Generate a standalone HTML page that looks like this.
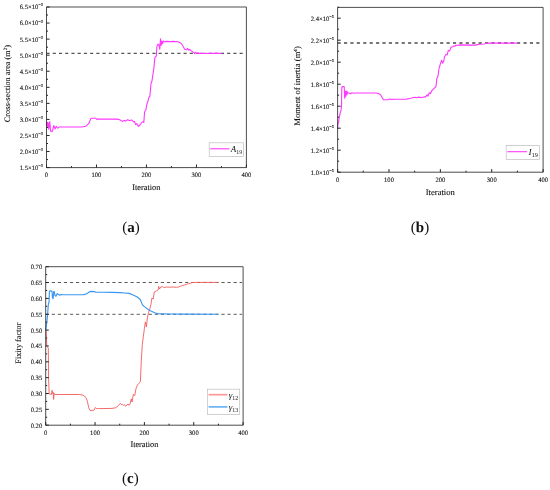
<!DOCTYPE html>
<html><head><meta charset="utf-8"><title>Figure</title>
<style>
html,body{margin:0;padding:0;background:#fff;}
body{width:550px;height:490px;overflow:hidden;}
svg{display:block;text-rendering:geometricPrecision;font-family:"Liberation Serif","DejaVu Serif",serif;fill:#1a1a1a;}
#pa{font-size:10px;}#pb{font-size:10.4px;}#pc{font-size:10px;}
.tk{font-size:6.6px;fill:#111;stroke:#111;stroke-width:.1px;}
.sup{font-size:.67em;}
.sup2{font-size:.6em;}
.sub{font-size:.66em;}
.ax{font-size:.825em;fill:#111;stroke:#111;stroke-width:.1px;}
.lt{font-size:.9em;fill:#111;}
.cap{font-size:15px;fill:#111;}
.mg{fill:none;stroke:#ff38ff;stroke-width:1.1;stroke-linejoin:round;}
.rd{fill:none;stroke:#f35a5a;stroke-width:0.9;stroke-linejoin:round;}
.bl{fill:none;stroke:#3a96ee;stroke-width:1.15;stroke-linejoin:round;}
.dash{stroke:#555;stroke-width:1.15;stroke-dasharray:3.1 3.13;fill:none;}
.dashb{stroke:#484848;stroke-width:1.45;stroke-dasharray:3.1 3.31;fill:none;}
.dash2{stroke:#3c3c3c;stroke-width:0.85;stroke-dasharray:3.2 2.86;fill:none;}
.tick line{stroke:#222;stroke-width:1.0;}
.lg{fill:#fff;stroke:#bdbdbd;stroke-width:0.7;}
</style></head><body>
<svg width="550" height="490" viewBox="0 0 550 490">
<rect width="550" height="490" fill="#fff"/>
<g id="pa">
<line x1="46.5" y1="53.4" x2="243.9" y2="53.4" class="dash"/>
<polyline points="46.6,125.0 47.0,122.0 47.3,126.5 47.8,122.6 48.3,123.0 48.7,129.2 49.2,127.0 49.7,121.5 50.2,126.0 50.6,131.2 52.3,131.4 53.0,129.0 53.7,125.6 54.4,127.0 55.0,128.9 55.7,127.5 56.3,126.2 57.0,127.3 57.8,128.1 58.6,127.3 59.4,127.0 70.0,127.0 81.5,127.0 85.9,126.2 88.7,123.7 90.0,120.5 90.9,118.5 92.0,118.2 95.8,118.2 97.1,119.6 98.3,118.9 99.1,119.1 108.0,119.1 117.0,119.1 119.8,119.8 122.3,121.4 124.2,120.6 125.9,120.9 127.5,119.8 129.4,120.6 131.9,120.0 133.6,122.0 134.5,121.4 135.6,124.7 136.7,123.6 138.5,126.4 140.2,124.7 141.9,122.2 143.0,121.7 143.8,122.5 144.6,112.0 145.9,109.8 146.8,104.3 148.1,101.0 148.8,97.5 149.8,96.6 150.5,90.0 150.9,84.0 151.9,81.3 153.0,74.1 153.8,68.6 154.9,57.6 156.3,55.9 156.9,46.5 158.2,44.1 159.0,44.9 159.8,49.3 160.5,38.8 161.2,45.4 161.8,41.0 162.6,43.8 163.4,41.0 164.8,41.9 166.5,41.4 170.9,41.6 173.1,41.4 178.0,41.7 180.2,42.7 181.9,44.3 183.5,47.1 184.6,49.3 186.3,49.8 187.6,48.5 188.5,50.1 189.6,49.3 191.3,50.9 192.9,52.0 194.0,52.6 194.8,53.7 195.7,52.4 196.8,53.6 197.9,52.9 199.5,53.4 201.0,53.1 203.0,53.5 210.0,53.4 222.0,53.4" class="mg"/>
<path d="M46.5,7.0 H246.4 V167.6" fill="none" stroke="#444" stroke-width="0.95"/><path d="M46.5,7.0 V167.6 H246.4" fill="none" stroke="#2c2c2c" stroke-width="0.85"/>
<g class="tick"><line x1="46.5" y1="7.00" x2="49.6" y2="7.00"/>
<line x1="46.5" y1="15.03" x2="48.0" y2="15.03"/>
<line x1="46.5" y1="23.06" x2="49.6" y2="23.06"/>
<line x1="46.5" y1="31.09" x2="48.0" y2="31.09"/>
<line x1="46.5" y1="39.12" x2="49.6" y2="39.12"/>
<line x1="46.5" y1="47.15" x2="48.0" y2="47.15"/>
<line x1="46.5" y1="55.18" x2="49.6" y2="55.18"/>
<line x1="46.5" y1="63.21" x2="48.0" y2="63.21"/>
<line x1="46.5" y1="71.24" x2="49.6" y2="71.24"/>
<line x1="46.5" y1="79.27" x2="48.0" y2="79.27"/>
<line x1="46.5" y1="87.30" x2="49.6" y2="87.30"/>
<line x1="46.5" y1="95.33" x2="48.0" y2="95.33"/>
<line x1="46.5" y1="103.36" x2="49.6" y2="103.36"/>
<line x1="46.5" y1="111.39" x2="48.0" y2="111.39"/>
<line x1="46.5" y1="119.42" x2="49.6" y2="119.42"/>
<line x1="46.5" y1="127.45" x2="48.0" y2="127.45"/>
<line x1="46.5" y1="135.48" x2="49.6" y2="135.48"/>
<line x1="46.5" y1="143.51" x2="48.0" y2="143.51"/>
<line x1="46.5" y1="151.54" x2="49.6" y2="151.54"/>
<line x1="46.5" y1="159.57" x2="48.0" y2="159.57"/>
<line x1="46.5" y1="167.60" x2="49.6" y2="167.60"/><line x1="46.50" y1="167.6" x2="46.50" y2="164.5"/>
<line x1="71.49" y1="167.6" x2="71.49" y2="166.1"/>
<line x1="96.47" y1="167.6" x2="96.47" y2="164.5"/>
<line x1="121.46" y1="167.6" x2="121.46" y2="166.1"/>
<line x1="146.45" y1="167.6" x2="146.45" y2="164.5"/>
<line x1="171.44" y1="167.6" x2="171.44" y2="166.1"/>
<line x1="196.43" y1="167.6" x2="196.43" y2="164.5"/>
<line x1="221.41" y1="167.6" x2="221.41" y2="166.1"/>
<line x1="246.40" y1="167.6" x2="246.40" y2="164.5"/></g>
<text x="43.0" y="9.40" text-anchor="end" class="tk">6.5×10<tspan class="sup" dy="-2.9">−3</tspan></text>
<text x="43.0" y="25.46" text-anchor="end" class="tk">6.0×10<tspan class="sup" dy="-2.9">−3</tspan></text>
<text x="43.0" y="41.52" text-anchor="end" class="tk">5.5×10<tspan class="sup" dy="-2.9">−3</tspan></text>
<text x="43.0" y="57.58" text-anchor="end" class="tk">5.0×10<tspan class="sup" dy="-2.9">−3</tspan></text>
<text x="43.0" y="73.64" text-anchor="end" class="tk">4.5×10<tspan class="sup" dy="-2.9">−3</tspan></text>
<text x="43.0" y="89.70" text-anchor="end" class="tk">4.0×10<tspan class="sup" dy="-2.9">−3</tspan></text>
<text x="43.0" y="105.76" text-anchor="end" class="tk">3.5×10<tspan class="sup" dy="-2.9">−3</tspan></text>
<text x="43.0" y="121.82" text-anchor="end" class="tk">3.0×10<tspan class="sup" dy="-2.9">−3</tspan></text>
<text x="43.0" y="137.88" text-anchor="end" class="tk">2.5×10<tspan class="sup" dy="-2.9">−3</tspan></text>
<text x="43.0" y="153.94" text-anchor="end" class="tk">2.0×10<tspan class="sup" dy="-2.9">−3</tspan></text>
<text x="43.0" y="170.00" text-anchor="end" class="tk">1.5×10<tspan class="sup" dy="-2.9">−3</tspan></text>
<text x="46.50" y="177.0" text-anchor="middle" class="tk">0</text>
<text x="96.47" y="177.0" text-anchor="middle" class="tk">100</text>
<text x="146.45" y="177.0" text-anchor="middle" class="tk">200</text>
<text x="196.43" y="177.0" text-anchor="middle" class="tk">300</text>
<text x="246.40" y="177.0" text-anchor="middle" class="tk">400</text>
<text x="146.3" y="189.6" text-anchor="middle" class="ax">Iteration</text>
<text transform="translate(9.8,83.6) rotate(-90)" text-anchor="middle" class="ax">Cross-section area (m<tspan class="sup2" dy="-3">2</tspan><tspan dy="3">)</tspan></text>
<rect x="209.2" y="142.8" width="34.2" height="13.8" class="lg"/>
<line x1="210.2" y1="148.8" x2="229.4" y2="148.8" class="mg" stroke-width="1.4"/>
<text x="230.8" y="152.2" class="lt"><tspan font-style="italic">A</tspan><tspan class="sub" dy="2.2">19</tspan></text>
<text x="130.9" y="231.8" text-anchor="middle" class="cap">(<tspan font-weight="bold">a</tspan>)</text>
</g>
<g id="pb">
<line x1="337.6" y1="43.0" x2="540.6" y2="43.0" class="dashb"/>
<polyline points="337.6,128.6 337.9,124.1 338.3,123.0 338.6,122.4 339.4,116.4 340.2,113.0 341.0,110.3 341.5,106.5 341.8,87.2 342.3,86.6 344.2,86.6 344.7,98.2 345.2,91.0 345.7,96.5 346.3,91.0 346.9,94.9 347.4,91.9 348.2,93.0 349.5,93.2 350.4,93.8 352.0,92.7 353.7,93.2 356.0,93.0 375.8,93.0 378.6,93.5 380.8,95.1 382.4,98.1 383.5,99.8 387.9,99.8 389.6,98.9 391.2,99.4 395.0,99.3 406.5,99.1 410.7,98.3 414.8,97.3 416.4,97.8 418.9,97.1 421.4,97.8 423.9,96.9 425.5,96.9 427.2,94.8 428.0,96.1 429.3,92.8 430.5,93.6 432.1,90.3 434.6,87.9 436.0,86.5 436.8,78.8 437.9,76.3 439.1,68.0 440.4,63.9 441.6,60.2 442.5,63.1 443.6,61.6 444.5,57.0 446.1,54.2 447.2,54.8 448.3,50.4 449.7,50.9 451.0,47.1 452.7,46.8 453.8,45.9 454.9,46.3 455.4,45.4 457.6,45.2 459.8,44.9 475.3,45.1 477.5,44.6 479.7,44.3 484.1,44.0 486.3,43.3 489.6,43.1 500.0,43.1 517.5,43.1" class="mg"/>
<path d="M337.6,7.4 H543.1 V172.2" fill="none" stroke="#444" stroke-width="0.95"/><path d="M337.6,7.4 V172.2 H543.1" fill="none" stroke="#2c2c2c" stroke-width="0.85"/>
<g class="tick"><line x1="337.6" y1="172.20" x2="340.70000000000005" y2="172.20"/>
<line x1="337.6" y1="161.20" x2="339.1" y2="161.20"/>
<line x1="337.6" y1="150.20" x2="340.70000000000005" y2="150.20"/>
<line x1="337.6" y1="139.20" x2="339.1" y2="139.20"/>
<line x1="337.6" y1="128.20" x2="340.70000000000005" y2="128.20"/>
<line x1="337.6" y1="117.20" x2="339.1" y2="117.20"/>
<line x1="337.6" y1="106.20" x2="340.70000000000005" y2="106.20"/>
<line x1="337.6" y1="95.20" x2="339.1" y2="95.20"/>
<line x1="337.6" y1="84.20" x2="340.70000000000005" y2="84.20"/>
<line x1="337.6" y1="73.20" x2="339.1" y2="73.20"/>
<line x1="337.6" y1="62.20" x2="340.70000000000005" y2="62.20"/>
<line x1="337.6" y1="51.20" x2="339.1" y2="51.20"/>
<line x1="337.6" y1="40.20" x2="340.70000000000005" y2="40.20"/>
<line x1="337.6" y1="29.20" x2="339.1" y2="29.20"/>
<line x1="337.6" y1="18.20" x2="340.70000000000005" y2="18.20"/>
<line x1="337.6" y1="7.20" x2="339.1" y2="7.20"/><line x1="337.60" y1="172.2" x2="337.60" y2="169.1"/>
<line x1="363.29" y1="172.2" x2="363.29" y2="170.7"/>
<line x1="388.98" y1="172.2" x2="388.98" y2="169.1"/>
<line x1="414.66" y1="172.2" x2="414.66" y2="170.7"/>
<line x1="440.35" y1="172.2" x2="440.35" y2="169.1"/>
<line x1="466.04" y1="172.2" x2="466.04" y2="170.7"/>
<line x1="491.73" y1="172.2" x2="491.73" y2="169.1"/>
<line x1="517.41" y1="172.2" x2="517.41" y2="170.7"/>
<line x1="543.10" y1="172.2" x2="543.10" y2="169.1"/></g>
<text x="334.0" y="20.90" text-anchor="end" class="tk">2.4×10<tspan class="sup" dy="-2.9">−5</tspan></text>
<text x="334.0" y="42.90" text-anchor="end" class="tk">2.2×10<tspan class="sup" dy="-2.9">−5</tspan></text>
<text x="334.0" y="64.90" text-anchor="end" class="tk">2.0×10<tspan class="sup" dy="-2.9">−5</tspan></text>
<text x="334.0" y="86.90" text-anchor="end" class="tk">1.8×10<tspan class="sup" dy="-2.9">−5</tspan></text>
<text x="334.0" y="108.90" text-anchor="end" class="tk">1.6×10<tspan class="sup" dy="-2.9">−5</tspan></text>
<text x="334.0" y="130.90" text-anchor="end" class="tk">1.4×10<tspan class="sup" dy="-2.9">−5</tspan></text>
<text x="334.0" y="152.90" text-anchor="end" class="tk">1.2×10<tspan class="sup" dy="-2.9">−5</tspan></text>
<text x="334.0" y="174.90" text-anchor="end" class="tk">1.0×10<tspan class="sup" dy="-2.9">−5</tspan></text>
<text x="337.60" y="181.6" text-anchor="middle" class="tk">0</text>
<text x="388.98" y="181.6" text-anchor="middle" class="tk">100</text>
<text x="440.35" y="181.6" text-anchor="middle" class="tk">200</text>
<text x="491.73" y="181.6" text-anchor="middle" class="tk">300</text>
<text x="543.10" y="181.6" text-anchor="middle" class="tk">400</text>
<text x="440.3" y="194.6" text-anchor="middle" class="ax">Iteration</text>
<text transform="translate(299.8,86.0) rotate(-90)" text-anchor="middle" class="ax">Moment of inertia (m<tspan class="sup2" dy="-3">4</tspan><tspan dy="3">)</tspan></text>
<rect x="506.2" y="145.6" width="33.1" height="14" class="lg"/>
<line x1="507.3" y1="151.7" x2="526.9" y2="151.7" class="mg" stroke-width="1.4"/>
<text x="528.6" y="155.1" class="lt"><tspan font-style="italic">I</tspan><tspan class="sub" dy="2.2">19</tspan></text>
<text x="420.0" y="232.0" text-anchor="middle" class="cap">(<tspan font-weight="bold">b</tspan>)</text>
</g>
<g id="pc">
<line x1="45.7" y1="282.5" x2="242.1" y2="282.5" class="dash2"/>
<line x1="45.7" y1="314.3" x2="242.1" y2="314.3" class="dash2"/>
<polyline points="46.1,330.5 46.8,346.1 48.3,348.0 48.6,380.1 49.2,393.9 51.4,394.5 52.1,390.3 52.9,393.9 53.2,392.6 53.6,399.4 54.2,393.4 55.1,394.5 79.5,394.5 83.2,395.2 86.0,397.6 87.4,401.3 88.7,407.7 90.0,410.5 93.9,410.2 95.3,407.5 96.6,408.8 98.3,408.4 101.0,408.6 112.0,408.4 115.9,407.7 118.1,405.8 120.3,403.4 121.4,404.7 122.5,404.4 123.6,405.3 124.4,404.7 125.5,406.2 126.9,405.1 128.0,404.0 129.1,405.3 130.2,403.6 131.3,398.9 132.1,402.0 133.3,394.3 134.7,395.6 136.1,388.2 137.6,384.9 139.1,383.2 140.4,381.6 140.9,370.0 141.3,360.7 142.3,344.4 143.4,336.2 144.4,328.5 145.4,321.9 146.4,327.0 147.4,317.9 148.5,312.5 149.9,308.5 151.0,304.1 151.9,298.0 153.2,299.1 154.3,292.0 156.5,290.9 158.2,289.8 158.7,286.5 159.6,288.9 160.9,287.0 162.6,286.5 163.7,287.6 166.5,287.0 169.8,287.2 173.1,287.0 176.4,287.3 178.6,287.0 181.3,285.9 184.1,285.1 186.3,284.5 188.5,283.7 190.2,283.4 191.8,282.6 195.1,282.4 218.4,282.4" class="rd"/>
<polyline points="45.8,330.2 46.9,321.4 47.6,314.8 48.3,304.8 49.1,301.5 49.4,291.6 50.2,290.7 52.0,291.1 52.4,297.1 53.1,298.8 53.7,291.6 54.4,291.8 54.9,295.5 56.0,296.2 57.1,293.6 58.4,294.4 59.5,295.1 61.2,294.6 62.8,294.7 83.8,294.6 86.6,293.8 88.2,292.7 89.9,291.6 91.5,291.4 94.3,291.6 95.9,292.2 103.0,292.2 112.0,292.4 120.0,292.6 125.0,293.0 129.1,293.4 133.2,295.0 137.2,297.0 140.3,299.5 142.3,304.6 144.4,306.6 146.4,308.1 148.5,309.7 151.5,311.3 154.6,312.8 157.7,313.6 165.8,313.9 185.0,314.1 218.4,314.2" class="bl"/>
<path d="M45.7,266.7 H243.1 V425.2" fill="none" stroke="#444" stroke-width="0.95"/><path d="M45.7,266.7 V425.2 H243.1" fill="none" stroke="#2c2c2c" stroke-width="0.85"/>
<g class="tick"><line x1="45.7" y1="266.70" x2="48.800000000000004" y2="266.70"/>
<line x1="45.7" y1="274.62" x2="47.2" y2="274.62"/>
<line x1="45.7" y1="282.55" x2="48.800000000000004" y2="282.55"/>
<line x1="45.7" y1="290.48" x2="47.2" y2="290.48"/>
<line x1="45.7" y1="298.40" x2="48.800000000000004" y2="298.40"/>
<line x1="45.7" y1="306.32" x2="47.2" y2="306.32"/>
<line x1="45.7" y1="314.25" x2="48.800000000000004" y2="314.25"/>
<line x1="45.7" y1="322.18" x2="47.2" y2="322.18"/>
<line x1="45.7" y1="330.10" x2="48.800000000000004" y2="330.10"/>
<line x1="45.7" y1="338.02" x2="47.2" y2="338.02"/>
<line x1="45.7" y1="345.95" x2="48.800000000000004" y2="345.95"/>
<line x1="45.7" y1="353.88" x2="47.2" y2="353.88"/>
<line x1="45.7" y1="361.80" x2="48.800000000000004" y2="361.80"/>
<line x1="45.7" y1="369.72" x2="47.2" y2="369.72"/>
<line x1="45.7" y1="377.65" x2="48.800000000000004" y2="377.65"/>
<line x1="45.7" y1="385.57" x2="47.2" y2="385.57"/>
<line x1="45.7" y1="393.50" x2="48.800000000000004" y2="393.50"/>
<line x1="45.7" y1="401.43" x2="47.2" y2="401.43"/>
<line x1="45.7" y1="409.35" x2="48.800000000000004" y2="409.35"/>
<line x1="45.7" y1="417.28" x2="47.2" y2="417.28"/>
<line x1="45.7" y1="425.20" x2="48.800000000000004" y2="425.20"/><line x1="45.70" y1="425.2" x2="45.70" y2="422.09999999999997"/>
<line x1="70.38" y1="425.2" x2="70.38" y2="423.7"/>
<line x1="95.05" y1="425.2" x2="95.05" y2="422.09999999999997"/>
<line x1="119.72" y1="425.2" x2="119.72" y2="423.7"/>
<line x1="144.40" y1="425.2" x2="144.40" y2="422.09999999999997"/>
<line x1="169.07" y1="425.2" x2="169.07" y2="423.7"/>
<line x1="193.75" y1="425.2" x2="193.75" y2="422.09999999999997"/>
<line x1="218.43" y1="425.2" x2="218.43" y2="423.7"/>
<line x1="243.10" y1="425.2" x2="243.10" y2="422.09999999999997"/></g>
<text x="42.2" y="269.10" text-anchor="end" class="tk">0.70</text>
<text x="42.2" y="284.95" text-anchor="end" class="tk">0.65</text>
<text x="42.2" y="300.80" text-anchor="end" class="tk">0.60</text>
<text x="42.2" y="316.65" text-anchor="end" class="tk">0.55</text>
<text x="42.2" y="332.50" text-anchor="end" class="tk">0.50</text>
<text x="42.2" y="348.35" text-anchor="end" class="tk">0.45</text>
<text x="42.2" y="364.20" text-anchor="end" class="tk">0.40</text>
<text x="42.2" y="380.05" text-anchor="end" class="tk">0.35</text>
<text x="42.2" y="395.90" text-anchor="end" class="tk">0.30</text>
<text x="42.2" y="411.75" text-anchor="end" class="tk">0.25</text>
<text x="42.2" y="427.60" text-anchor="end" class="tk">0.20</text>
<text x="45.70" y="434.6" text-anchor="middle" class="tk">0</text>
<text x="95.05" y="434.6" text-anchor="middle" class="tk">100</text>
<text x="144.40" y="434.6" text-anchor="middle" class="tk">200</text>
<text x="193.75" y="434.6" text-anchor="middle" class="tk">300</text>
<text x="243.10" y="434.6" text-anchor="middle" class="tk">400</text>
<text x="144.4" y="447.0" text-anchor="middle" class="ax">Iteration</text>
<text transform="translate(21.4,343.2) rotate(-90)" text-anchor="middle" class="ax">Fixity factor</text>
<rect x="207.5" y="389.2" width="32.2" height="25.3" class="lg"/>
<line x1="208.6" y1="394.7" x2="227.4" y2="394.7" stroke="#f99" stroke-width="1.7" fill="none"/>
<line x1="208.6" y1="406.9" x2="227.4" y2="406.9" stroke="#6bb4f3" stroke-width="1.7" fill="none"/>
<text x="228.8" y="398.2" class="lt"><tspan font-style="italic">γ</tspan><tspan class="sub" dy="1.6">12</tspan></text>
<text x="228.8" y="410.4" class="lt"><tspan font-style="italic">γ</tspan><tspan class="sub" dy="1.6">13</tspan></text>
<text x="130.4" y="482.6" text-anchor="middle" class="cap">(<tspan font-weight="bold">c</tspan>)</text>
</g>
</svg>
</body></html>
